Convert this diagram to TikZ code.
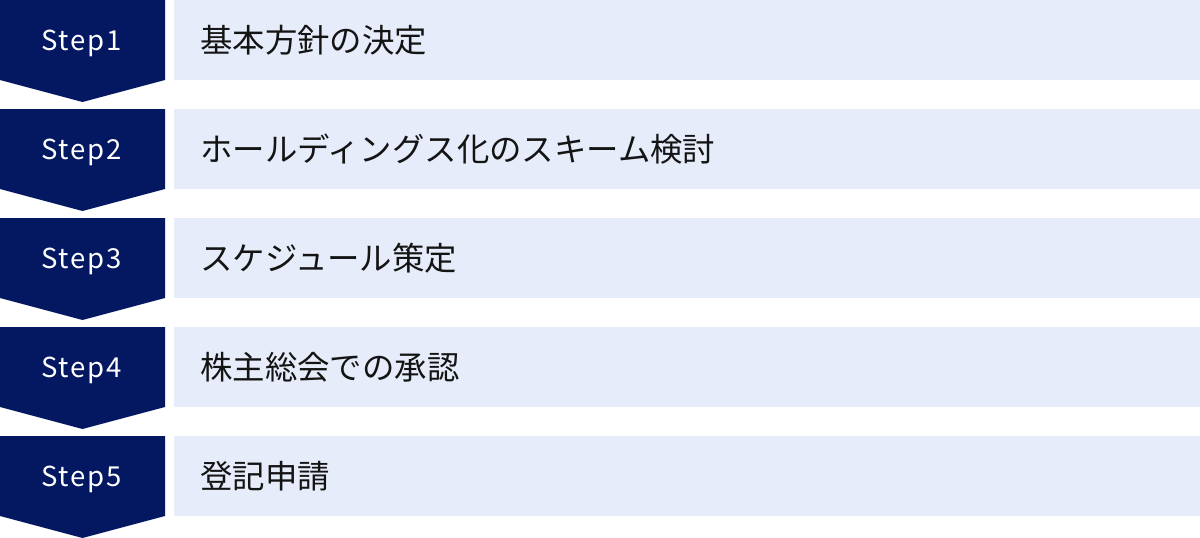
\documentclass[tikz,border=0pt]{standalone}
\usepackage{fontspec}
\setmainfont{Noto Sans CJK JP}
\newfontfamily\steptextfont[LetterSpace=7]{Noto Sans CJK JP}
\definecolor{navy}{RGB}{4,24,98}
\definecolor{paleblue}{RGB}{230,236,249}
\definecolor{ink}{RGB}{20,20,20}
\tikzset{
  steplabel/.style={text=white,font=\steptextfont\fontsize{27.5}{30}\selectfont,inner sep=0pt,anchor=center},
  tasklabel/.style={text=ink,font=\fontsize{32.4}{35}\selectfont,inner sep=0pt,anchor=west},
}
\begin{document}
\begin{tikzpicture}[x=1pt,y=-1pt]
\useasboundingbox (0,0) rectangle (1200,538);
\foreach \i/\lab/\task in {1/Step1/基本方針の決定,2/Step2/ホールディングス化のスキーム検討,3/Step3/スケジュール策定,4/Step4/株主総会での承認,5/Step5/登記申請}{
  \pgfmathsetmacro{\t}{(\i-1)*109}
  \fill[navy] (0,\t) -- (165,\t) -- (165,\t+80) -- (82.5,\t+102) -- (0,\t+80) -- cycle;
  \fill[paleblue] (174,\t) rectangle (1200,\t+80);
  \node[steplabel] (s\i) at (81.8,\t+43) {\lab};
  \node[tasklabel] (t\i) at (200,\t+40) {\task};
}
\end{tikzpicture}
\end{document}
